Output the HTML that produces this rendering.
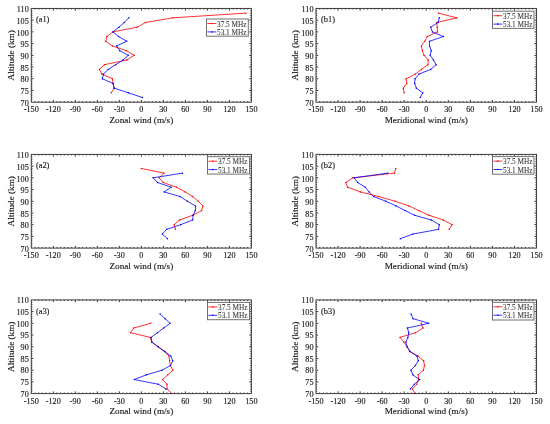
<!DOCTYPE html>
<html><head><meta charset="utf-8"><title>Wind profiles</title>
<style>
html,body{margin:0;padding:0;background:#fff;}
body{width:550px;height:424px;overflow:hidden;}
svg{display:block;filter:blur(0.3px);}
text{font-family:"Liberation Serif","Times New Roman",serif;fill:#1a1a1a;stroke:#1a1a1a;stroke-width:0.15px;}
.tl{font-size:8.2px;}
.al{font-size:9.2px;}
.lt{font-size:7.3px;stroke-width:0.05px;fill:#333;}
.pl{font-size:8.4px;}
.fr{fill:none;stroke:#3c3c3c;stroke-width:1;}
.tk{fill:none;stroke:#333;stroke-width:1;}
.ln{fill:none;stroke-width:0.8;stroke-linejoin:round;}
.dt{fill:none;stroke-width:1.5;stroke-linecap:round;}
.lg{fill:#fff;stroke:#707070;stroke-width:1;}
</style></head>
<body>
<svg width="550" height="424" viewBox="0 0 550 424">
<rect width="550" height="424" fill="#fff"/>
<g><path class="tk" d="M34.97 102.2v-1.1M34.97 8.45v1.1M38.64 102.2v-1.1M38.64 8.45v1.1M42.3 102.2v-1.1M42.3 8.45v1.1M45.97 102.2v-1.1M45.97 8.45v1.1M49.64 102.2v-1.1M49.64 8.45v1.1M53.31 102.2v-2.2M53.31 8.45v2.2M56.98 102.2v-1.1M56.98 8.45v1.1M60.65 102.2v-1.1M60.65 8.45v1.1M64.31 102.2v-1.1M64.31 8.45v1.1M67.98 102.2v-1.1M67.98 8.45v1.1M71.65 102.2v-1.1M71.65 8.45v1.1M75.32 102.2v-2.2M75.32 8.45v2.2M78.99 102.2v-1.1M78.99 8.45v1.1M82.66 102.2v-1.1M82.66 8.45v1.1M86.33 102.2v-1.1M86.33 8.45v1.1M89.99 102.2v-1.1M89.99 8.45v1.1M93.66 102.2v-1.1M93.66 8.45v1.1M97.33 102.2v-2.2M97.33 8.45v2.2M101 102.2v-1.1M101 8.45v1.1M104.67 102.2v-1.1M104.67 8.45v1.1M108.33 102.2v-1.1M108.33 8.45v1.1M112 102.2v-1.1M112 8.45v1.1M115.67 102.2v-1.1M115.67 8.45v1.1M119.34 102.2v-2.2M119.34 8.45v2.2M123.01 102.2v-1.1M123.01 8.45v1.1M126.68 102.2v-1.1M126.68 8.45v1.1M130.34 102.2v-1.1M130.34 8.45v1.1M134.01 102.2v-1.1M134.01 8.45v1.1M137.68 102.2v-1.1M137.68 8.45v1.1M141.35 102.2v-2.2M141.35 8.45v2.2M145.02 102.2v-1.1M145.02 8.45v1.1M148.69 102.2v-1.1M148.69 8.45v1.1M152.36 102.2v-1.1M152.36 8.45v1.1M156.02 102.2v-1.1M156.02 8.45v1.1M159.69 102.2v-1.1M159.69 8.45v1.1M163.36 102.2v-2.2M163.36 8.45v2.2M167.03 102.2v-1.1M167.03 8.45v1.1M170.7 102.2v-1.1M170.7 8.45v1.1M174.37 102.2v-1.1M174.37 8.45v1.1M178.03 102.2v-1.1M178.03 8.45v1.1M181.7 102.2v-1.1M181.7 8.45v1.1M185.37 102.2v-2.2M185.37 8.45v2.2M189.04 102.2v-1.1M189.04 8.45v1.1M192.71 102.2v-1.1M192.71 8.45v1.1M196.38 102.2v-1.1M196.38 8.45v1.1M200.04 102.2v-1.1M200.04 8.45v1.1M203.71 102.2v-1.1M203.71 8.45v1.1M207.38 102.2v-2.2M207.38 8.45v2.2M211.05 102.2v-1.1M211.05 8.45v1.1M214.72 102.2v-1.1M214.72 8.45v1.1M218.38 102.2v-1.1M218.38 8.45v1.1M222.05 102.2v-1.1M222.05 8.45v1.1M225.72 102.2v-1.1M225.72 8.45v1.1M229.39 102.2v-2.2M229.39 8.45v2.2M233.06 102.2v-1.1M233.06 8.45v1.1M236.73 102.2v-1.1M236.73 8.45v1.1M240.4 102.2v-1.1M240.4 8.45v1.1M244.06 102.2v-1.1M244.06 8.45v1.1M247.73 102.2v-1.1M247.73 8.45v1.1M31.3 99.86h1.1M251.4 99.86h-1.1M31.3 97.51h1.1M251.4 97.51h-1.1M31.3 95.17h1.1M251.4 95.17h-1.1M31.3 92.83h1.1M251.4 92.83h-1.1M31.3 90.48h2.2M251.4 90.48h-2.2M31.3 88.14h1.1M251.4 88.14h-1.1M31.3 85.79h1.1M251.4 85.79h-1.1M31.3 83.45h1.1M251.4 83.45h-1.1M31.3 81.11h1.1M251.4 81.11h-1.1M31.3 78.76h2.2M251.4 78.76h-2.2M31.3 76.42h1.1M251.4 76.42h-1.1M31.3 74.08h1.1M251.4 74.08h-1.1M31.3 71.73h1.1M251.4 71.73h-1.1M31.3 69.39h1.1M251.4 69.39h-1.1M31.3 67.04h2.2M251.4 67.04h-2.2M31.3 64.7h1.1M251.4 64.7h-1.1M31.3 62.36h1.1M251.4 62.36h-1.1M31.3 60.01h1.1M251.4 60.01h-1.1M31.3 57.67h1.1M251.4 57.67h-1.1M31.3 55.33h2.2M251.4 55.33h-2.2M31.3 52.98h1.1M251.4 52.98h-1.1M31.3 50.64h1.1M251.4 50.64h-1.1M31.3 48.29h1.1M251.4 48.29h-1.1M31.3 45.95h1.1M251.4 45.95h-1.1M31.3 43.61h2.2M251.4 43.61h-2.2M31.3 41.26h1.1M251.4 41.26h-1.1M31.3 38.92h1.1M251.4 38.92h-1.1M31.3 36.58h1.1M251.4 36.58h-1.1M31.3 34.23h1.1M251.4 34.23h-1.1M31.3 31.89h2.2M251.4 31.89h-2.2M31.3 29.54h1.1M251.4 29.54h-1.1M31.3 27.2h1.1M251.4 27.2h-1.1M31.3 24.86h1.1M251.4 24.86h-1.1M31.3 22.51h1.1M251.4 22.51h-1.1M31.3 20.17h2.2M251.4 20.17h-2.2M31.3 17.82h1.1M251.4 17.82h-1.1M31.3 15.48h1.1M251.4 15.48h-1.1M31.3 13.14h1.1M251.4 13.14h-1.1M31.3 10.79h1.1M251.4 10.79h-1.1"/>
<polyline class="ln" stroke="#ff0000" points="245.9,13.14 172.9,17.82 145.53,22.51 137.17,27.2 112.96,31.89 106.87,36.58 105.77,41.26 112.37,45.95 126.24,50.64 134.23,55.33 126.97,60.01 104.45,64.7 99.46,69.39 101.88,74.08 112.37,78.76 112.96,83.45 114.2,88.14 111.27,92.83"/>
<path class="dt" stroke="#ff0000" d="M245.9 13.14h0M172.9 17.82h0M145.53 22.51h0M137.17 27.2h0M112.96 31.89h0M106.87 36.58h0M105.77 41.26h0M112.37 45.95h0M126.24 50.64h0M134.23 55.33h0M126.97 60.01h0M104.45 64.7h0M99.46 69.39h0M101.88 74.08h0M112.37 78.76h0M112.96 83.45h0M114.2 88.14h0M111.27 92.83h0"/>
<polyline class="ln" stroke="#0000ff" points="128.8,17.82 124.18,22.51 118.97,27.2 112.96,31.89 118.61,36.58 126.82,41.26 116.55,45.95 119.63,50.64 128.29,55.33 123.01,60.01 115.67,64.7 108.26,69.39 103.49,74.08 102.39,78.76 113.03,83.45 114.2,88.14 128.36,92.83 142.45,97.51"/>
<path class="dt" stroke="#0000ff" d="M128.8 17.82h0M124.18 22.51h0M118.97 27.2h0M112.96 31.89h0M118.61 36.58h0M126.82 41.26h0M116.55 45.95h0M119.63 50.64h0M128.29 55.33h0M123.01 60.01h0M115.67 64.7h0M108.26 69.39h0M103.49 74.08h0M102.39 78.76h0M113.03 83.45h0M114.2 88.14h0M128.36 92.83h0M142.45 97.51h0"/>
<rect class="fr" x="31.3" y="8.45" width="220.1" height="93.75"/>
<rect class="lg" x="206.5" y="19" width="41.8" height="17.2"/>
<path class="ln" stroke="#ff0000" d="M207.4 23.5H216.3"/>
<path class="dt" stroke="#ff0000" d="M211.9 23.5h0"/>
<text class="lt" x="217" y="26.7">37.5 MHz</text>
<path class="ln" stroke="#0000ff" d="M207.4 31.9H216.3"/>
<path class="dt" stroke="#0000ff" d="M211.9 31.9h0"/>
<text class="lt" x="217" y="34.9">53.1 MHz</text>
<text class="tl" x="31.3" y="112" text-anchor="middle">-150</text>
<text class="tl" x="53.31" y="112" text-anchor="middle">-120</text>
<text class="tl" x="75.32" y="112" text-anchor="middle">-90</text>
<text class="tl" x="97.33" y="112" text-anchor="middle">-60</text>
<text class="tl" x="119.34" y="112" text-anchor="middle">-30</text>
<text class="tl" x="141.35" y="112" text-anchor="middle">0</text>
<text class="tl" x="163.36" y="112" text-anchor="middle">30</text>
<text class="tl" x="185.37" y="112" text-anchor="middle">60</text>
<text class="tl" x="207.38" y="112" text-anchor="middle">90</text>
<text class="tl" x="229.39" y="112" text-anchor="middle">120</text>
<text class="tl" x="251.4" y="112" text-anchor="middle">150</text>
<text class="tl" x="28.8" y="105.9" text-anchor="end">70</text>
<text class="tl" x="28.8" y="94.18" text-anchor="end">75</text>
<text class="tl" x="28.8" y="82.46" text-anchor="end">80</text>
<text class="tl" x="28.8" y="70.74" text-anchor="end">85</text>
<text class="tl" x="28.8" y="59.03" text-anchor="end">90</text>
<text class="tl" x="28.8" y="47.31" text-anchor="end">95</text>
<text class="tl" x="28.8" y="35.59" text-anchor="end">100</text>
<text class="tl" x="28.8" y="23.87" text-anchor="end">105</text>
<text class="tl" x="28.8" y="12.15" text-anchor="end">110</text>
<text class="al" x="141.35" y="122.7" text-anchor="middle">Zonal wind (m/s)</text>
<text class="al" x="13.7" y="55.33" text-anchor="middle" transform="rotate(-90 13.7 55.33)">Altitude (km)</text>
<text class="pl" x="35.9" y="21.85">(a1)</text></g>
<g><path class="tk" d="M34.97 248.1v-1.1M34.97 154.4v1.1M38.64 248.1v-1.1M38.64 154.4v1.1M42.3 248.1v-1.1M42.3 154.4v1.1M45.97 248.1v-1.1M45.97 154.4v1.1M49.64 248.1v-1.1M49.64 154.4v1.1M53.31 248.1v-2.2M53.31 154.4v2.2M56.98 248.1v-1.1M56.98 154.4v1.1M60.65 248.1v-1.1M60.65 154.4v1.1M64.31 248.1v-1.1M64.31 154.4v1.1M67.98 248.1v-1.1M67.98 154.4v1.1M71.65 248.1v-1.1M71.65 154.4v1.1M75.32 248.1v-2.2M75.32 154.4v2.2M78.99 248.1v-1.1M78.99 154.4v1.1M82.66 248.1v-1.1M82.66 154.4v1.1M86.33 248.1v-1.1M86.33 154.4v1.1M89.99 248.1v-1.1M89.99 154.4v1.1M93.66 248.1v-1.1M93.66 154.4v1.1M97.33 248.1v-2.2M97.33 154.4v2.2M101 248.1v-1.1M101 154.4v1.1M104.67 248.1v-1.1M104.67 154.4v1.1M108.33 248.1v-1.1M108.33 154.4v1.1M112 248.1v-1.1M112 154.4v1.1M115.67 248.1v-1.1M115.67 154.4v1.1M119.34 248.1v-2.2M119.34 154.4v2.2M123.01 248.1v-1.1M123.01 154.4v1.1M126.68 248.1v-1.1M126.68 154.4v1.1M130.34 248.1v-1.1M130.34 154.4v1.1M134.01 248.1v-1.1M134.01 154.4v1.1M137.68 248.1v-1.1M137.68 154.4v1.1M141.35 248.1v-2.2M141.35 154.4v2.2M145.02 248.1v-1.1M145.02 154.4v1.1M148.69 248.1v-1.1M148.69 154.4v1.1M152.36 248.1v-1.1M152.36 154.4v1.1M156.02 248.1v-1.1M156.02 154.4v1.1M159.69 248.1v-1.1M159.69 154.4v1.1M163.36 248.1v-2.2M163.36 154.4v2.2M167.03 248.1v-1.1M167.03 154.4v1.1M170.7 248.1v-1.1M170.7 154.4v1.1M174.37 248.1v-1.1M174.37 154.4v1.1M178.03 248.1v-1.1M178.03 154.4v1.1M181.7 248.1v-1.1M181.7 154.4v1.1M185.37 248.1v-2.2M185.37 154.4v2.2M189.04 248.1v-1.1M189.04 154.4v1.1M192.71 248.1v-1.1M192.71 154.4v1.1M196.38 248.1v-1.1M196.38 154.4v1.1M200.04 248.1v-1.1M200.04 154.4v1.1M203.71 248.1v-1.1M203.71 154.4v1.1M207.38 248.1v-2.2M207.38 154.4v2.2M211.05 248.1v-1.1M211.05 154.4v1.1M214.72 248.1v-1.1M214.72 154.4v1.1M218.38 248.1v-1.1M218.38 154.4v1.1M222.05 248.1v-1.1M222.05 154.4v1.1M225.72 248.1v-1.1M225.72 154.4v1.1M229.39 248.1v-2.2M229.39 154.4v2.2M233.06 248.1v-1.1M233.06 154.4v1.1M236.73 248.1v-1.1M236.73 154.4v1.1M240.4 248.1v-1.1M240.4 154.4v1.1M244.06 248.1v-1.1M244.06 154.4v1.1M247.73 248.1v-1.1M247.73 154.4v1.1M31.3 245.76h1.1M251.4 245.76h-1.1M31.3 243.41h1.1M251.4 243.41h-1.1M31.3 241.07h1.1M251.4 241.07h-1.1M31.3 238.73h1.1M251.4 238.73h-1.1M31.3 236.39h2.2M251.4 236.39h-2.2M31.3 234.04h1.1M251.4 234.04h-1.1M31.3 231.7h1.1M251.4 231.7h-1.1M31.3 229.36h1.1M251.4 229.36h-1.1M31.3 227.02h1.1M251.4 227.02h-1.1M31.3 224.68h2.2M251.4 224.68h-2.2M31.3 222.33h1.1M251.4 222.33h-1.1M31.3 219.99h1.1M251.4 219.99h-1.1M31.3 217.65h1.1M251.4 217.65h-1.1M31.3 215.31h1.1M251.4 215.31h-1.1M31.3 212.96h2.2M251.4 212.96h-2.2M31.3 210.62h1.1M251.4 210.62h-1.1M31.3 208.28h1.1M251.4 208.28h-1.1M31.3 205.94h1.1M251.4 205.94h-1.1M31.3 203.59h1.1M251.4 203.59h-1.1M31.3 201.25h2.2M251.4 201.25h-2.2M31.3 198.91h1.1M251.4 198.91h-1.1M31.3 196.56h1.1M251.4 196.56h-1.1M31.3 194.22h1.1M251.4 194.22h-1.1M31.3 191.88h1.1M251.4 191.88h-1.1M31.3 189.54h2.2M251.4 189.54h-2.2M31.3 187.19h1.1M251.4 187.19h-1.1M31.3 184.85h1.1M251.4 184.85h-1.1M31.3 182.51h1.1M251.4 182.51h-1.1M31.3 180.17h1.1M251.4 180.17h-1.1M31.3 177.82h2.2M251.4 177.82h-2.2M31.3 175.48h1.1M251.4 175.48h-1.1M31.3 173.14h1.1M251.4 173.14h-1.1M31.3 170.8h1.1M251.4 170.8h-1.1M31.3 168.46h1.1M251.4 168.46h-1.1M31.3 166.11h2.2M251.4 166.11h-2.2M31.3 163.77h1.1M251.4 163.77h-1.1M31.3 161.43h1.1M251.4 161.43h-1.1M31.3 159.09h1.1M251.4 159.09h-1.1M31.3 156.74h1.1M251.4 156.74h-1.1"/>
<polyline class="ln" stroke="#ff0000" points="141.35,168.46 164.09,173.14 159.25,177.82 163.21,182.51 176.42,187.19 185.15,191.88 192.63,196.56 198.28,201.25 202.98,205.94 201.58,210.62 192.63,215.31 179.5,219.99 174.22,224.68 175.47,229.36"/>
<path class="dt" stroke="#ff0000" d="M141.35 168.46h0M164.09 173.14h0M159.25 177.82h0M163.21 182.51h0M176.42 187.19h0M185.15 191.88h0M192.63 196.56h0M198.28 201.25h0M202.98 205.94h0M201.58 210.62h0M192.63 215.31h0M179.5 219.99h0M174.22 224.68h0M175.47 229.36h0"/>
<polyline class="ln" stroke="#0000ff" points="182.51,173.14 153.02,177.82 157.49,182.51 171.21,187.19 164.09,191.88 180.09,196.56 187.42,201.25 195.49,205.94 195.35,210.62 193.15,215.31 192.63,219.99 180.67,224.68 166.73,229.36 162.26,234.04 167.47,238.73"/>
<path class="dt" stroke="#0000ff" d="M182.51 173.14h0M153.02 177.82h0M157.49 182.51h0M171.21 187.19h0M164.09 191.88h0M180.09 196.56h0M187.42 201.25h0M195.49 205.94h0M195.35 210.62h0M193.15 215.31h0M192.63 219.99h0M180.67 224.68h0M166.73 229.36h0M162.26 234.04h0M167.47 238.73h0"/>
<rect class="fr" x="31.3" y="154.4" width="220.1" height="93.7"/>
<rect class="lg" x="207.5" y="156.7" width="42" height="17.4"/>
<path class="ln" stroke="#ff0000" d="M208.4 161.2H217.3"/>
<path class="dt" stroke="#ff0000" d="M212.9 161.2h0"/>
<text class="lt" x="218" y="164.4">37.5 MHz</text>
<path class="ln" stroke="#0000ff" d="M208.4 169.6H217.3"/>
<path class="dt" stroke="#0000ff" d="M212.9 169.6h0"/>
<text class="lt" x="218" y="172.6">53.1 MHz</text>
<text class="tl" x="31.3" y="258" text-anchor="middle">-150</text>
<text class="tl" x="53.31" y="258" text-anchor="middle">-120</text>
<text class="tl" x="75.32" y="258" text-anchor="middle">-90</text>
<text class="tl" x="97.33" y="258" text-anchor="middle">-60</text>
<text class="tl" x="119.34" y="258" text-anchor="middle">-30</text>
<text class="tl" x="141.35" y="258" text-anchor="middle">0</text>
<text class="tl" x="163.36" y="258" text-anchor="middle">30</text>
<text class="tl" x="185.37" y="258" text-anchor="middle">60</text>
<text class="tl" x="207.38" y="258" text-anchor="middle">90</text>
<text class="tl" x="229.39" y="258" text-anchor="middle">120</text>
<text class="tl" x="251.4" y="258" text-anchor="middle">150</text>
<text class="tl" x="28.8" y="251.8" text-anchor="end">70</text>
<text class="tl" x="28.8" y="240.09" text-anchor="end">75</text>
<text class="tl" x="28.8" y="228.38" text-anchor="end">80</text>
<text class="tl" x="28.8" y="216.66" text-anchor="end">85</text>
<text class="tl" x="28.8" y="204.95" text-anchor="end">90</text>
<text class="tl" x="28.8" y="193.24" text-anchor="end">95</text>
<text class="tl" x="28.8" y="181.52" text-anchor="end">100</text>
<text class="tl" x="28.8" y="169.81" text-anchor="end">105</text>
<text class="tl" x="28.8" y="158.1" text-anchor="end">110</text>
<text class="al" x="141.35" y="268.6" text-anchor="middle">Zonal wind (m/s)</text>
<text class="al" x="13.7" y="201.25" text-anchor="middle" transform="rotate(-90 13.7 201.25)">Altitude (km)</text>
<text class="pl" x="35.9" y="167.8">(a2)</text></g>
<g><path class="tk" d="M34.97 393.6v-1.1M34.97 299.9v1.1M38.64 393.6v-1.1M38.64 299.9v1.1M42.3 393.6v-1.1M42.3 299.9v1.1M45.97 393.6v-1.1M45.97 299.9v1.1M49.64 393.6v-1.1M49.64 299.9v1.1M53.31 393.6v-2.2M53.31 299.9v2.2M56.98 393.6v-1.1M56.98 299.9v1.1M60.65 393.6v-1.1M60.65 299.9v1.1M64.31 393.6v-1.1M64.31 299.9v1.1M67.98 393.6v-1.1M67.98 299.9v1.1M71.65 393.6v-1.1M71.65 299.9v1.1M75.32 393.6v-2.2M75.32 299.9v2.2M78.99 393.6v-1.1M78.99 299.9v1.1M82.66 393.6v-1.1M82.66 299.9v1.1M86.33 393.6v-1.1M86.33 299.9v1.1M89.99 393.6v-1.1M89.99 299.9v1.1M93.66 393.6v-1.1M93.66 299.9v1.1M97.33 393.6v-2.2M97.33 299.9v2.2M101 393.6v-1.1M101 299.9v1.1M104.67 393.6v-1.1M104.67 299.9v1.1M108.33 393.6v-1.1M108.33 299.9v1.1M112 393.6v-1.1M112 299.9v1.1M115.67 393.6v-1.1M115.67 299.9v1.1M119.34 393.6v-2.2M119.34 299.9v2.2M123.01 393.6v-1.1M123.01 299.9v1.1M126.68 393.6v-1.1M126.68 299.9v1.1M130.34 393.6v-1.1M130.34 299.9v1.1M134.01 393.6v-1.1M134.01 299.9v1.1M137.68 393.6v-1.1M137.68 299.9v1.1M141.35 393.6v-2.2M141.35 299.9v2.2M145.02 393.6v-1.1M145.02 299.9v1.1M148.69 393.6v-1.1M148.69 299.9v1.1M152.36 393.6v-1.1M152.36 299.9v1.1M156.02 393.6v-1.1M156.02 299.9v1.1M159.69 393.6v-1.1M159.69 299.9v1.1M163.36 393.6v-2.2M163.36 299.9v2.2M167.03 393.6v-1.1M167.03 299.9v1.1M170.7 393.6v-1.1M170.7 299.9v1.1M174.37 393.6v-1.1M174.37 299.9v1.1M178.03 393.6v-1.1M178.03 299.9v1.1M181.7 393.6v-1.1M181.7 299.9v1.1M185.37 393.6v-2.2M185.37 299.9v2.2M189.04 393.6v-1.1M189.04 299.9v1.1M192.71 393.6v-1.1M192.71 299.9v1.1M196.38 393.6v-1.1M196.38 299.9v1.1M200.04 393.6v-1.1M200.04 299.9v1.1M203.71 393.6v-1.1M203.71 299.9v1.1M207.38 393.6v-2.2M207.38 299.9v2.2M211.05 393.6v-1.1M211.05 299.9v1.1M214.72 393.6v-1.1M214.72 299.9v1.1M218.38 393.6v-1.1M218.38 299.9v1.1M222.05 393.6v-1.1M222.05 299.9v1.1M225.72 393.6v-1.1M225.72 299.9v1.1M229.39 393.6v-2.2M229.39 299.9v2.2M233.06 393.6v-1.1M233.06 299.9v1.1M236.73 393.6v-1.1M236.73 299.9v1.1M240.4 393.6v-1.1M240.4 299.9v1.1M244.06 393.6v-1.1M244.06 299.9v1.1M247.73 393.6v-1.1M247.73 299.9v1.1M31.3 391.26h1.1M251.4 391.26h-1.1M31.3 388.92h1.1M251.4 388.92h-1.1M31.3 386.57h1.1M251.4 386.57h-1.1M31.3 384.23h1.1M251.4 384.23h-1.1M31.3 381.89h2.2M251.4 381.89h-2.2M31.3 379.55h1.1M251.4 379.55h-1.1M31.3 377.2h1.1M251.4 377.2h-1.1M31.3 374.86h1.1M251.4 374.86h-1.1M31.3 372.52h1.1M251.4 372.52h-1.1M31.3 370.18h2.2M251.4 370.18h-2.2M31.3 367.83h1.1M251.4 367.83h-1.1M31.3 365.49h1.1M251.4 365.49h-1.1M31.3 363.15h1.1M251.4 363.15h-1.1M31.3 360.81h1.1M251.4 360.81h-1.1M31.3 358.46h2.2M251.4 358.46h-2.2M31.3 356.12h1.1M251.4 356.12h-1.1M31.3 353.78h1.1M251.4 353.78h-1.1M31.3 351.44h1.1M251.4 351.44h-1.1M31.3 349.09h1.1M251.4 349.09h-1.1M31.3 346.75h2.2M251.4 346.75h-2.2M31.3 344.41h1.1M251.4 344.41h-1.1M31.3 342.06h1.1M251.4 342.06h-1.1M31.3 339.72h1.1M251.4 339.72h-1.1M31.3 337.38h1.1M251.4 337.38h-1.1M31.3 335.04h2.2M251.4 335.04h-2.2M31.3 332.69h1.1M251.4 332.69h-1.1M31.3 330.35h1.1M251.4 330.35h-1.1M31.3 328.01h1.1M251.4 328.01h-1.1M31.3 325.67h1.1M251.4 325.67h-1.1M31.3 323.32h2.2M251.4 323.32h-2.2M31.3 320.98h1.1M251.4 320.98h-1.1M31.3 318.64h1.1M251.4 318.64h-1.1M31.3 316.3h1.1M251.4 316.3h-1.1M31.3 313.95h1.1M251.4 313.95h-1.1M31.3 311.61h2.2M251.4 311.61h-2.2M31.3 309.27h1.1M251.4 309.27h-1.1M31.3 306.93h1.1M251.4 306.93h-1.1M31.3 304.58h1.1M251.4 304.58h-1.1M31.3 302.24h1.1M251.4 302.24h-1.1"/>
<polyline class="ln" stroke="#ff0000" points="150.81,323.32 133.65,328.01 130.49,332.69 150.37,337.38 151.62,342.06 157.86,346.75 164.46,351.44 168.86,356.12 169.6,360.81 170.4,365.49 172.97,370.18 167.76,374.86 162.55,379.55 166.95,384.23 167.03,388.92 171.8,393.6"/>
<path class="dt" stroke="#ff0000" d="M150.81 323.32h0M133.65 328.01h0M130.49 332.69h0M150.37 337.38h0M151.62 342.06h0M157.86 346.75h0M164.46 351.44h0M168.86 356.12h0M169.6 360.81h0M170.4 365.49h0M172.97 370.18h0M167.76 374.86h0M162.55 379.55h0M166.95 384.23h0M167.03 388.92h0M171.8 393.6h0"/>
<polyline class="ln" stroke="#0000ff" points="160.06,313.95 165.05,318.64 170.04,323.32 163.73,328.01 157.49,332.69 151.18,337.38 151.91,342.06 158.15,346.75 164.75,351.44 170.84,356.12 172.75,360.81 170.55,365.49 162.04,370.18 146.27,374.86 134.31,379.55 158.22,384.23 165.85,388.92"/>
<path class="dt" stroke="#0000ff" d="M160.06 313.95h0M165.05 318.64h0M170.04 323.32h0M163.73 328.01h0M157.49 332.69h0M151.18 337.38h0M151.91 342.06h0M158.15 346.75h0M164.75 351.44h0M170.84 356.12h0M172.75 360.81h0M170.55 365.49h0M162.04 370.18h0M146.27 374.86h0M134.31 379.55h0M158.22 384.23h0M165.85 388.92h0"/>
<rect class="fr" x="31.3" y="299.9" width="220.1" height="93.7"/>
<rect class="lg" x="207.5" y="302.4" width="42" height="17.3"/>
<path class="ln" stroke="#ff0000" d="M208.4 306.9H217.3"/>
<path class="dt" stroke="#ff0000" d="M212.9 306.9h0"/>
<text class="lt" x="218" y="310.1">37.5 MHz</text>
<path class="ln" stroke="#0000ff" d="M208.4 315.3H217.3"/>
<path class="dt" stroke="#0000ff" d="M212.9 315.3h0"/>
<text class="lt" x="218" y="318.3">53.1 MHz</text>
<text class="tl" x="31.3" y="404" text-anchor="middle">-150</text>
<text class="tl" x="53.31" y="404" text-anchor="middle">-120</text>
<text class="tl" x="75.32" y="404" text-anchor="middle">-90</text>
<text class="tl" x="97.33" y="404" text-anchor="middle">-60</text>
<text class="tl" x="119.34" y="404" text-anchor="middle">-30</text>
<text class="tl" x="141.35" y="404" text-anchor="middle">0</text>
<text class="tl" x="163.36" y="404" text-anchor="middle">30</text>
<text class="tl" x="185.37" y="404" text-anchor="middle">60</text>
<text class="tl" x="207.38" y="404" text-anchor="middle">90</text>
<text class="tl" x="229.39" y="404" text-anchor="middle">120</text>
<text class="tl" x="251.4" y="404" text-anchor="middle">150</text>
<text class="tl" x="28.8" y="396.9" text-anchor="end">70</text>
<text class="tl" x="28.8" y="385.19" text-anchor="end">75</text>
<text class="tl" x="28.8" y="373.48" text-anchor="end">80</text>
<text class="tl" x="28.8" y="361.76" text-anchor="end">85</text>
<text class="tl" x="28.8" y="350.05" text-anchor="end">90</text>
<text class="tl" x="28.8" y="338.34" text-anchor="end">95</text>
<text class="tl" x="28.8" y="326.62" text-anchor="end">100</text>
<text class="tl" x="28.8" y="314.91" text-anchor="end">105</text>
<text class="tl" x="28.8" y="303.2" text-anchor="end">110</text>
<text class="al" x="141.35" y="414.1" text-anchor="middle">Zonal wind (m/s)</text>
<text class="al" x="13.7" y="346.75" text-anchor="middle" transform="rotate(-90 13.7 346.75)">Altitude (km)</text>
<text class="pl" x="35.9" y="313.7">(a3)</text></g>
<g><path class="tk" d="M319.68 102.2v-1.1M319.68 8.45v1.1M323.35 102.2v-1.1M323.35 8.45v1.1M327.02 102.2v-1.1M327.02 8.45v1.1M330.7 102.2v-1.1M330.7 8.45v1.1M334.38 102.2v-1.1M334.38 8.45v1.1M338.05 102.2v-2.2M338.05 8.45v2.2M341.73 102.2v-1.1M341.73 8.45v1.1M345.4 102.2v-1.1M345.4 8.45v1.1M349.07 102.2v-1.1M349.07 8.45v1.1M352.75 102.2v-1.1M352.75 8.45v1.1M356.43 102.2v-1.1M356.43 8.45v1.1M360.1 102.2v-2.2M360.1 8.45v2.2M363.77 102.2v-1.1M363.77 8.45v1.1M367.45 102.2v-1.1M367.45 8.45v1.1M371.12 102.2v-1.1M371.12 8.45v1.1M374.8 102.2v-1.1M374.8 8.45v1.1M378.48 102.2v-1.1M378.48 8.45v1.1M382.15 102.2v-2.2M382.15 8.45v2.2M385.82 102.2v-1.1M385.82 8.45v1.1M389.5 102.2v-1.1M389.5 8.45v1.1M393.18 102.2v-1.1M393.18 8.45v1.1M396.85 102.2v-1.1M396.85 8.45v1.1M400.52 102.2v-1.1M400.52 8.45v1.1M404.2 102.2v-2.2M404.2 8.45v2.2M407.88 102.2v-1.1M407.88 8.45v1.1M411.55 102.2v-1.1M411.55 8.45v1.1M415.23 102.2v-1.1M415.23 8.45v1.1M418.9 102.2v-1.1M418.9 8.45v1.1M422.57 102.2v-1.1M422.57 8.45v1.1M426.25 102.2v-2.2M426.25 8.45v2.2M429.93 102.2v-1.1M429.93 8.45v1.1M433.6 102.2v-1.1M433.6 8.45v1.1M437.27 102.2v-1.1M437.27 8.45v1.1M440.95 102.2v-1.1M440.95 8.45v1.1M444.62 102.2v-1.1M444.62 8.45v1.1M448.3 102.2v-2.2M448.3 8.45v2.2M451.98 102.2v-1.1M451.98 8.45v1.1M455.65 102.2v-1.1M455.65 8.45v1.1M459.33 102.2v-1.1M459.33 8.45v1.1M463 102.2v-1.1M463 8.45v1.1M466.68 102.2v-1.1M466.68 8.45v1.1M470.35 102.2v-2.2M470.35 8.45v2.2M474.02 102.2v-1.1M474.02 8.45v1.1M477.7 102.2v-1.1M477.7 8.45v1.1M481.38 102.2v-1.1M481.38 8.45v1.1M485.05 102.2v-1.1M485.05 8.45v1.1M488.73 102.2v-1.1M488.73 8.45v1.1M492.4 102.2v-2.2M492.4 8.45v2.2M496.07 102.2v-1.1M496.07 8.45v1.1M499.75 102.2v-1.1M499.75 8.45v1.1M503.42 102.2v-1.1M503.42 8.45v1.1M507.1 102.2v-1.1M507.1 8.45v1.1M510.77 102.2v-1.1M510.77 8.45v1.1M514.45 102.2v-2.2M514.45 8.45v2.2M518.12 102.2v-1.1M518.12 8.45v1.1M521.8 102.2v-1.1M521.8 8.45v1.1M525.48 102.2v-1.1M525.48 8.45v1.1M529.15 102.2v-1.1M529.15 8.45v1.1M532.83 102.2v-1.1M532.83 8.45v1.1M316 99.86h1.1M536.5 99.86h-1.1M316 97.51h1.1M536.5 97.51h-1.1M316 95.17h1.1M536.5 95.17h-1.1M316 92.83h1.1M536.5 92.83h-1.1M316 90.48h2.2M536.5 90.48h-2.2M316 88.14h1.1M536.5 88.14h-1.1M316 85.79h1.1M536.5 85.79h-1.1M316 83.45h1.1M536.5 83.45h-1.1M316 81.11h1.1M536.5 81.11h-1.1M316 78.76h2.2M536.5 78.76h-2.2M316 76.42h1.1M536.5 76.42h-1.1M316 74.08h1.1M536.5 74.08h-1.1M316 71.73h1.1M536.5 71.73h-1.1M316 69.39h1.1M536.5 69.39h-1.1M316 67.04h2.2M536.5 67.04h-2.2M316 64.7h1.1M536.5 64.7h-1.1M316 62.36h1.1M536.5 62.36h-1.1M316 60.01h1.1M536.5 60.01h-1.1M316 57.67h1.1M536.5 57.67h-1.1M316 55.33h2.2M536.5 55.33h-2.2M316 52.98h1.1M536.5 52.98h-1.1M316 50.64h1.1M536.5 50.64h-1.1M316 48.29h1.1M536.5 48.29h-1.1M316 45.95h1.1M536.5 45.95h-1.1M316 43.61h2.2M536.5 43.61h-2.2M316 41.26h1.1M536.5 41.26h-1.1M316 38.92h1.1M536.5 38.92h-1.1M316 36.58h1.1M536.5 36.58h-1.1M316 34.23h1.1M536.5 34.23h-1.1M316 31.89h2.2M536.5 31.89h-2.2M316 29.54h1.1M536.5 29.54h-1.1M316 27.2h1.1M536.5 27.2h-1.1M316 24.86h1.1M536.5 24.86h-1.1M316 22.51h1.1M536.5 22.51h-1.1M316 20.17h2.2M536.5 20.17h-2.2M316 17.82h1.1M536.5 17.82h-1.1M316 15.48h1.1M536.5 15.48h-1.1M316 13.14h1.1M536.5 13.14h-1.1M316 10.79h1.1M536.5 10.79h-1.1"/>
<polyline class="ln" stroke="#ff0000" points="438.52,13.14 456.75,17.82 436.76,22.51 437.27,27.2 437.42,31.89 427.28,36.58 424.78,41.26 421.4,45.95 422.35,50.64 424.05,55.33 428.23,60.01 427.94,64.7 421.4,69.39 415.45,74.08 406.11,78.76 406.77,83.45 403.24,88.14 404.13,92.83"/>
<path class="dt" stroke="#ff0000" d="M438.52 13.14h0M456.75 17.82h0M436.76 22.51h0M437.27 27.2h0M437.42 31.89h0M427.28 36.58h0M424.78 41.26h0M421.4 45.95h0M422.35 50.64h0M424.05 55.33h0M428.23 60.01h0M427.94 64.7h0M421.4 69.39h0M415.45 74.08h0M406.11 78.76h0M406.77 83.45h0M403.24 88.14h0M404.13 92.83h0"/>
<polyline class="ln" stroke="#0000ff" points="439.26,17.82 438.16,22.51 430.66,27.2 432.42,31.89 443.3,36.58 429.56,41.26 429.56,45.95 431.25,50.64 430.15,55.33 433.45,60.01 436.17,64.7 430.81,69.39 418.97,74.08 415.08,78.76 414.64,83.45 416.33,88.14 422.72,92.83 420.22,97.51"/>
<path class="dt" stroke="#0000ff" d="M439.26 17.82h0M438.16 22.51h0M430.66 27.2h0M432.42 31.89h0M443.3 36.58h0M429.56 41.26h0M429.56 45.95h0M431.25 50.64h0M430.15 55.33h0M433.45 60.01h0M436.17 64.7h0M430.81 69.39h0M418.97 74.08h0M415.08 78.76h0M414.64 83.45h0M416.33 88.14h0M422.72 92.83h0M420.22 97.51h0"/>
<rect class="fr" x="316" y="8.45" width="220.5" height="93.75"/>
<rect class="lg" x="492.5" y="11.2" width="41.5" height="17.2"/>
<path class="ln" stroke="#ff0000" d="M493.4 15.7H502.3"/>
<path class="dt" stroke="#ff0000" d="M497.9 15.7h0"/>
<text class="lt" x="503" y="18.9">37.5 MHz</text>
<path class="ln" stroke="#0000ff" d="M493.4 24.1H502.3"/>
<path class="dt" stroke="#0000ff" d="M497.9 24.1h0"/>
<text class="lt" x="503" y="27.1">53.1 MHz</text>
<text class="tl" x="316" y="112" text-anchor="middle">-150</text>
<text class="tl" x="338.05" y="112" text-anchor="middle">-120</text>
<text class="tl" x="360.1" y="112" text-anchor="middle">-90</text>
<text class="tl" x="382.15" y="112" text-anchor="middle">-60</text>
<text class="tl" x="404.2" y="112" text-anchor="middle">-30</text>
<text class="tl" x="426.25" y="112" text-anchor="middle">0</text>
<text class="tl" x="448.3" y="112" text-anchor="middle">30</text>
<text class="tl" x="470.35" y="112" text-anchor="middle">60</text>
<text class="tl" x="492.4" y="112" text-anchor="middle">90</text>
<text class="tl" x="514.45" y="112" text-anchor="middle">120</text>
<text class="tl" x="536.5" y="112" text-anchor="middle">150</text>
<text class="tl" x="313.5" y="105.9" text-anchor="end">70</text>
<text class="tl" x="313.5" y="94.18" text-anchor="end">75</text>
<text class="tl" x="313.5" y="82.46" text-anchor="end">80</text>
<text class="tl" x="313.5" y="70.74" text-anchor="end">85</text>
<text class="tl" x="313.5" y="59.03" text-anchor="end">90</text>
<text class="tl" x="313.5" y="47.31" text-anchor="end">95</text>
<text class="tl" x="313.5" y="35.59" text-anchor="end">100</text>
<text class="tl" x="313.5" y="23.87" text-anchor="end">105</text>
<text class="tl" x="313.5" y="12.15" text-anchor="end">110</text>
<text class="al" x="426.25" y="122.7" text-anchor="middle">Meridional wind (m/s)</text>
<text class="al" x="298.4" y="55.33" text-anchor="middle" transform="rotate(-90 298.4 55.33)">Altitude (km)</text>
<text class="pl" x="321" y="21.85">(b1)</text></g>
<g><path class="tk" d="M319.68 248.1v-1.1M319.68 154.4v1.1M323.35 248.1v-1.1M323.35 154.4v1.1M327.02 248.1v-1.1M327.02 154.4v1.1M330.7 248.1v-1.1M330.7 154.4v1.1M334.38 248.1v-1.1M334.38 154.4v1.1M338.05 248.1v-2.2M338.05 154.4v2.2M341.73 248.1v-1.1M341.73 154.4v1.1M345.4 248.1v-1.1M345.4 154.4v1.1M349.07 248.1v-1.1M349.07 154.4v1.1M352.75 248.1v-1.1M352.75 154.4v1.1M356.43 248.1v-1.1M356.43 154.4v1.1M360.1 248.1v-2.2M360.1 154.4v2.2M363.77 248.1v-1.1M363.77 154.4v1.1M367.45 248.1v-1.1M367.45 154.4v1.1M371.12 248.1v-1.1M371.12 154.4v1.1M374.8 248.1v-1.1M374.8 154.4v1.1M378.48 248.1v-1.1M378.48 154.4v1.1M382.15 248.1v-2.2M382.15 154.4v2.2M385.82 248.1v-1.1M385.82 154.4v1.1M389.5 248.1v-1.1M389.5 154.4v1.1M393.18 248.1v-1.1M393.18 154.4v1.1M396.85 248.1v-1.1M396.85 154.4v1.1M400.52 248.1v-1.1M400.52 154.4v1.1M404.2 248.1v-2.2M404.2 154.4v2.2M407.88 248.1v-1.1M407.88 154.4v1.1M411.55 248.1v-1.1M411.55 154.4v1.1M415.23 248.1v-1.1M415.23 154.4v1.1M418.9 248.1v-1.1M418.9 154.4v1.1M422.57 248.1v-1.1M422.57 154.4v1.1M426.25 248.1v-2.2M426.25 154.4v2.2M429.93 248.1v-1.1M429.93 154.4v1.1M433.6 248.1v-1.1M433.6 154.4v1.1M437.27 248.1v-1.1M437.27 154.4v1.1M440.95 248.1v-1.1M440.95 154.4v1.1M444.62 248.1v-1.1M444.62 154.4v1.1M448.3 248.1v-2.2M448.3 154.4v2.2M451.98 248.1v-1.1M451.98 154.4v1.1M455.65 248.1v-1.1M455.65 154.4v1.1M459.33 248.1v-1.1M459.33 154.4v1.1M463 248.1v-1.1M463 154.4v1.1M466.68 248.1v-1.1M466.68 154.4v1.1M470.35 248.1v-2.2M470.35 154.4v2.2M474.02 248.1v-1.1M474.02 154.4v1.1M477.7 248.1v-1.1M477.7 154.4v1.1M481.38 248.1v-1.1M481.38 154.4v1.1M485.05 248.1v-1.1M485.05 154.4v1.1M488.73 248.1v-1.1M488.73 154.4v1.1M492.4 248.1v-2.2M492.4 154.4v2.2M496.07 248.1v-1.1M496.07 154.4v1.1M499.75 248.1v-1.1M499.75 154.4v1.1M503.42 248.1v-1.1M503.42 154.4v1.1M507.1 248.1v-1.1M507.1 154.4v1.1M510.77 248.1v-1.1M510.77 154.4v1.1M514.45 248.1v-2.2M514.45 154.4v2.2M518.12 248.1v-1.1M518.12 154.4v1.1M521.8 248.1v-1.1M521.8 154.4v1.1M525.48 248.1v-1.1M525.48 154.4v1.1M529.15 248.1v-1.1M529.15 154.4v1.1M532.83 248.1v-1.1M532.83 154.4v1.1M316 245.76h1.1M536.5 245.76h-1.1M316 243.41h1.1M536.5 243.41h-1.1M316 241.07h1.1M536.5 241.07h-1.1M316 238.73h1.1M536.5 238.73h-1.1M316 236.39h2.2M536.5 236.39h-2.2M316 234.04h1.1M536.5 234.04h-1.1M316 231.7h1.1M536.5 231.7h-1.1M316 229.36h1.1M536.5 229.36h-1.1M316 227.02h1.1M536.5 227.02h-1.1M316 224.68h2.2M536.5 224.68h-2.2M316 222.33h1.1M536.5 222.33h-1.1M316 219.99h1.1M536.5 219.99h-1.1M316 217.65h1.1M536.5 217.65h-1.1M316 215.31h1.1M536.5 215.31h-1.1M316 212.96h2.2M536.5 212.96h-2.2M316 210.62h1.1M536.5 210.62h-1.1M316 208.28h1.1M536.5 208.28h-1.1M316 205.94h1.1M536.5 205.94h-1.1M316 203.59h1.1M536.5 203.59h-1.1M316 201.25h2.2M536.5 201.25h-2.2M316 198.91h1.1M536.5 198.91h-1.1M316 196.56h1.1M536.5 196.56h-1.1M316 194.22h1.1M536.5 194.22h-1.1M316 191.88h1.1M536.5 191.88h-1.1M316 189.54h2.2M536.5 189.54h-2.2M316 187.19h1.1M536.5 187.19h-1.1M316 184.85h1.1M536.5 184.85h-1.1M316 182.51h1.1M536.5 182.51h-1.1M316 180.17h1.1M536.5 180.17h-1.1M316 177.82h2.2M536.5 177.82h-2.2M316 175.48h1.1M536.5 175.48h-1.1M316 173.14h1.1M536.5 173.14h-1.1M316 170.8h1.1M536.5 170.8h-1.1M316 168.46h1.1M536.5 168.46h-1.1M316 166.11h2.2M536.5 166.11h-2.2M316 163.77h1.1M536.5 163.77h-1.1M316 161.43h1.1M536.5 161.43h-1.1M316 159.09h1.1M536.5 159.09h-1.1M316 156.74h1.1M536.5 156.74h-1.1"/>
<polyline class="ln" stroke="#ff0000" points="395.75,168.46 394.42,173.14 352.82,177.82 345.91,182.51 347.53,187.19 360.32,191.88 378.84,196.56 395.23,201.25 409.05,205.94 418.9,210.62 428.97,215.31 443.38,219.99 452.05,224.68 449.18,229.36"/>
<path class="dt" stroke="#ff0000" d="M395.75 168.46h0M394.42 173.14h0M352.82 177.82h0M345.91 182.51h0M347.53 187.19h0M360.32 191.88h0M378.84 196.56h0M395.23 201.25h0M409.05 205.94h0M418.9 210.62h0M428.97 215.31h0M443.38 219.99h0M452.05 224.68h0M449.18 229.36h0"/>
<polyline class="ln" stroke="#0000ff" points="387.74,173.14 354.15,177.82 357.6,182.51 365.25,187.19 369.07,191.88 373.7,196.56 385.9,201.25 396.12,205.94 405.23,210.62 414.71,215.31 431.25,219.99 439.33,224.68 438.52,229.36 412.87,234.04 400.3,238.73"/>
<path class="dt" stroke="#0000ff" d="M387.74 173.14h0M354.15 177.82h0M357.6 182.51h0M365.25 187.19h0M369.07 191.88h0M373.7 196.56h0M385.9 201.25h0M396.12 205.94h0M405.23 210.62h0M414.71 215.31h0M431.25 219.99h0M439.33 224.68h0M438.52 229.36h0M412.87 234.04h0M400.3 238.73h0"/>
<rect class="fr" x="316" y="154.4" width="220.5" height="93.7"/>
<rect class="lg" x="492.5" y="156.6" width="41.5" height="17.6"/>
<path class="ln" stroke="#ff0000" d="M493.4 161.1H502.3"/>
<path class="dt" stroke="#ff0000" d="M497.9 161.1h0"/>
<text class="lt" x="503" y="164.3">37.5 MHz</text>
<path class="ln" stroke="#0000ff" d="M493.4 169.5H502.3"/>
<path class="dt" stroke="#0000ff" d="M497.9 169.5h0"/>
<text class="lt" x="503" y="172.5">53.1 MHz</text>
<text class="tl" x="316" y="258" text-anchor="middle">-150</text>
<text class="tl" x="338.05" y="258" text-anchor="middle">-120</text>
<text class="tl" x="360.1" y="258" text-anchor="middle">-90</text>
<text class="tl" x="382.15" y="258" text-anchor="middle">-60</text>
<text class="tl" x="404.2" y="258" text-anchor="middle">-30</text>
<text class="tl" x="426.25" y="258" text-anchor="middle">0</text>
<text class="tl" x="448.3" y="258" text-anchor="middle">30</text>
<text class="tl" x="470.35" y="258" text-anchor="middle">60</text>
<text class="tl" x="492.4" y="258" text-anchor="middle">90</text>
<text class="tl" x="514.45" y="258" text-anchor="middle">120</text>
<text class="tl" x="536.5" y="258" text-anchor="middle">150</text>
<text class="tl" x="313.5" y="251.8" text-anchor="end">70</text>
<text class="tl" x="313.5" y="240.09" text-anchor="end">75</text>
<text class="tl" x="313.5" y="228.38" text-anchor="end">80</text>
<text class="tl" x="313.5" y="216.66" text-anchor="end">85</text>
<text class="tl" x="313.5" y="204.95" text-anchor="end">90</text>
<text class="tl" x="313.5" y="193.24" text-anchor="end">95</text>
<text class="tl" x="313.5" y="181.52" text-anchor="end">100</text>
<text class="tl" x="313.5" y="169.81" text-anchor="end">105</text>
<text class="tl" x="313.5" y="158.1" text-anchor="end">110</text>
<text class="al" x="426.25" y="268.6" text-anchor="middle">Meridional wind (m/s)</text>
<text class="al" x="298.4" y="201.25" text-anchor="middle" transform="rotate(-90 298.4 201.25)">Altitude (km)</text>
<text class="pl" x="321" y="167.8">(b2)</text></g>
<g><path class="tk" d="M319.68 393.6v-1.1M319.68 299.9v1.1M323.35 393.6v-1.1M323.35 299.9v1.1M327.02 393.6v-1.1M327.02 299.9v1.1M330.7 393.6v-1.1M330.7 299.9v1.1M334.38 393.6v-1.1M334.38 299.9v1.1M338.05 393.6v-2.2M338.05 299.9v2.2M341.73 393.6v-1.1M341.73 299.9v1.1M345.4 393.6v-1.1M345.4 299.9v1.1M349.07 393.6v-1.1M349.07 299.9v1.1M352.75 393.6v-1.1M352.75 299.9v1.1M356.43 393.6v-1.1M356.43 299.9v1.1M360.1 393.6v-2.2M360.1 299.9v2.2M363.77 393.6v-1.1M363.77 299.9v1.1M367.45 393.6v-1.1M367.45 299.9v1.1M371.12 393.6v-1.1M371.12 299.9v1.1M374.8 393.6v-1.1M374.8 299.9v1.1M378.48 393.6v-1.1M378.48 299.9v1.1M382.15 393.6v-2.2M382.15 299.9v2.2M385.82 393.6v-1.1M385.82 299.9v1.1M389.5 393.6v-1.1M389.5 299.9v1.1M393.18 393.6v-1.1M393.18 299.9v1.1M396.85 393.6v-1.1M396.85 299.9v1.1M400.52 393.6v-1.1M400.52 299.9v1.1M404.2 393.6v-2.2M404.2 299.9v2.2M407.88 393.6v-1.1M407.88 299.9v1.1M411.55 393.6v-1.1M411.55 299.9v1.1M415.23 393.6v-1.1M415.23 299.9v1.1M418.9 393.6v-1.1M418.9 299.9v1.1M422.57 393.6v-1.1M422.57 299.9v1.1M426.25 393.6v-2.2M426.25 299.9v2.2M429.93 393.6v-1.1M429.93 299.9v1.1M433.6 393.6v-1.1M433.6 299.9v1.1M437.27 393.6v-1.1M437.27 299.9v1.1M440.95 393.6v-1.1M440.95 299.9v1.1M444.62 393.6v-1.1M444.62 299.9v1.1M448.3 393.6v-2.2M448.3 299.9v2.2M451.98 393.6v-1.1M451.98 299.9v1.1M455.65 393.6v-1.1M455.65 299.9v1.1M459.33 393.6v-1.1M459.33 299.9v1.1M463 393.6v-1.1M463 299.9v1.1M466.68 393.6v-1.1M466.68 299.9v1.1M470.35 393.6v-2.2M470.35 299.9v2.2M474.02 393.6v-1.1M474.02 299.9v1.1M477.7 393.6v-1.1M477.7 299.9v1.1M481.38 393.6v-1.1M481.38 299.9v1.1M485.05 393.6v-1.1M485.05 299.9v1.1M488.73 393.6v-1.1M488.73 299.9v1.1M492.4 393.6v-2.2M492.4 299.9v2.2M496.07 393.6v-1.1M496.07 299.9v1.1M499.75 393.6v-1.1M499.75 299.9v1.1M503.42 393.6v-1.1M503.42 299.9v1.1M507.1 393.6v-1.1M507.1 299.9v1.1M510.77 393.6v-1.1M510.77 299.9v1.1M514.45 393.6v-2.2M514.45 299.9v2.2M518.12 393.6v-1.1M518.12 299.9v1.1M521.8 393.6v-1.1M521.8 299.9v1.1M525.48 393.6v-1.1M525.48 299.9v1.1M529.15 393.6v-1.1M529.15 299.9v1.1M532.83 393.6v-1.1M532.83 299.9v1.1M316 391.26h1.1M536.5 391.26h-1.1M316 388.92h1.1M536.5 388.92h-1.1M316 386.57h1.1M536.5 386.57h-1.1M316 384.23h1.1M536.5 384.23h-1.1M316 381.89h2.2M536.5 381.89h-2.2M316 379.55h1.1M536.5 379.55h-1.1M316 377.2h1.1M536.5 377.2h-1.1M316 374.86h1.1M536.5 374.86h-1.1M316 372.52h1.1M536.5 372.52h-1.1M316 370.18h2.2M536.5 370.18h-2.2M316 367.83h1.1M536.5 367.83h-1.1M316 365.49h1.1M536.5 365.49h-1.1M316 363.15h1.1M536.5 363.15h-1.1M316 360.81h1.1M536.5 360.81h-1.1M316 358.46h2.2M536.5 358.46h-2.2M316 356.12h1.1M536.5 356.12h-1.1M316 353.78h1.1M536.5 353.78h-1.1M316 351.44h1.1M536.5 351.44h-1.1M316 349.09h1.1M536.5 349.09h-1.1M316 346.75h2.2M536.5 346.75h-2.2M316 344.41h1.1M536.5 344.41h-1.1M316 342.06h1.1M536.5 342.06h-1.1M316 339.72h1.1M536.5 339.72h-1.1M316 337.38h1.1M536.5 337.38h-1.1M316 335.04h2.2M536.5 335.04h-2.2M316 332.69h1.1M536.5 332.69h-1.1M316 330.35h1.1M536.5 330.35h-1.1M316 328.01h1.1M536.5 328.01h-1.1M316 325.67h1.1M536.5 325.67h-1.1M316 323.32h2.2M536.5 323.32h-2.2M316 320.98h1.1M536.5 320.98h-1.1M316 318.64h1.1M536.5 318.64h-1.1M316 316.3h1.1M536.5 316.3h-1.1M316 313.95h1.1M536.5 313.95h-1.1M316 311.61h2.2M536.5 311.61h-2.2M316 309.27h1.1M536.5 309.27h-1.1M316 306.93h1.1M536.5 306.93h-1.1M316 304.58h1.1M536.5 304.58h-1.1M316 302.24h1.1M536.5 302.24h-1.1"/>
<polyline class="ln" stroke="#ff0000" points="421.18,323.32 423.09,328.01 415.52,332.69 400.01,337.38 403.83,342.06 407.14,346.75 409.93,351.44 417.94,356.12 423.6,360.81 424.49,365.49 423.46,370.18 418.16,374.86 418.68,379.55 416.77,384.23 412.36,388.92 415.23,393.6"/>
<path class="dt" stroke="#ff0000" d="M421.18 323.32h0M423.09 328.01h0M415.52 332.69h0M400.01 337.38h0M403.83 342.06h0M407.14 346.75h0M409.93 351.44h0M417.94 356.12h0M423.6 360.81h0M424.49 365.49h0M423.46 370.18h0M418.16 374.86h0M418.68 379.55h0M416.77 384.23h0M412.36 388.92h0M415.23 393.6h0"/>
<polyline class="ln" stroke="#0000ff" points="411.04,313.95 413.02,318.64 428.75,323.32 407.43,328.01 408.76,332.69 407.88,337.38 405.89,342.06 407.14,346.75 409.93,351.44 417.06,356.12 418.31,360.81 415.45,365.49 410.96,370.18 412.87,374.86 419.63,379.55 414.27,384.23 410.45,388.92"/>
<path class="dt" stroke="#0000ff" d="M411.04 313.95h0M413.02 318.64h0M428.75 323.32h0M407.43 328.01h0M408.76 332.69h0M407.88 337.38h0M405.89 342.06h0M407.14 346.75h0M409.93 351.44h0M417.06 356.12h0M418.31 360.81h0M415.45 365.49h0M410.96 370.18h0M412.87 374.86h0M419.63 379.55h0M414.27 384.23h0M410.45 388.92h0"/>
<rect class="fr" x="316" y="299.9" width="220.5" height="93.7"/>
<rect class="lg" x="492.5" y="302.3" width="41.5" height="17.7"/>
<path class="ln" stroke="#ff0000" d="M493.4 306.8H502.3"/>
<path class="dt" stroke="#ff0000" d="M497.9 306.8h0"/>
<text class="lt" x="503" y="310">37.5 MHz</text>
<path class="ln" stroke="#0000ff" d="M493.4 315.2H502.3"/>
<path class="dt" stroke="#0000ff" d="M497.9 315.2h0"/>
<text class="lt" x="503" y="318.2">53.1 MHz</text>
<text class="tl" x="316" y="404" text-anchor="middle">-150</text>
<text class="tl" x="338.05" y="404" text-anchor="middle">-120</text>
<text class="tl" x="360.1" y="404" text-anchor="middle">-90</text>
<text class="tl" x="382.15" y="404" text-anchor="middle">-60</text>
<text class="tl" x="404.2" y="404" text-anchor="middle">-30</text>
<text class="tl" x="426.25" y="404" text-anchor="middle">0</text>
<text class="tl" x="448.3" y="404" text-anchor="middle">30</text>
<text class="tl" x="470.35" y="404" text-anchor="middle">60</text>
<text class="tl" x="492.4" y="404" text-anchor="middle">90</text>
<text class="tl" x="514.45" y="404" text-anchor="middle">120</text>
<text class="tl" x="536.5" y="404" text-anchor="middle">150</text>
<text class="tl" x="313.5" y="396.9" text-anchor="end">70</text>
<text class="tl" x="313.5" y="385.19" text-anchor="end">75</text>
<text class="tl" x="313.5" y="373.48" text-anchor="end">80</text>
<text class="tl" x="313.5" y="361.76" text-anchor="end">85</text>
<text class="tl" x="313.5" y="350.05" text-anchor="end">90</text>
<text class="tl" x="313.5" y="338.34" text-anchor="end">95</text>
<text class="tl" x="313.5" y="326.62" text-anchor="end">100</text>
<text class="tl" x="313.5" y="314.91" text-anchor="end">105</text>
<text class="tl" x="313.5" y="303.2" text-anchor="end">110</text>
<text class="al" x="426.25" y="414.1" text-anchor="middle">Meridional wind (m/s)</text>
<text class="al" x="298.4" y="346.75" text-anchor="middle" transform="rotate(-90 298.4 346.75)">Altitude (km)</text>
<text class="pl" x="321" y="313.7">(b3)</text></g>
</svg>
</body></html>
